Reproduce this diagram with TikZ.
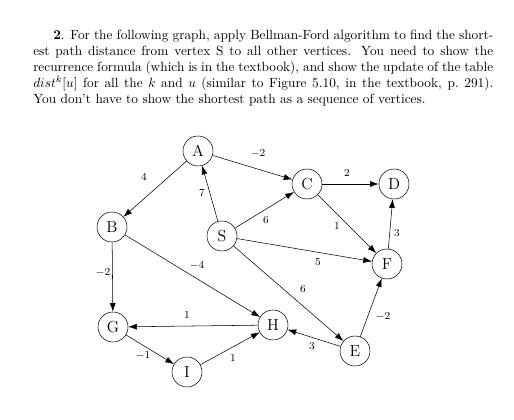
\documentclass[tikz,border=0pt]{standalone}
\usepackage{tikz}
\usetikzlibrary{arrows.meta}

\tikzset{
  vtx/.style={draw,circle,thin,minimum size=22.5pt,inner sep=0pt,font=\large},
  edge/.style={thin,-{Latex[length=6.5pt,width=4.5pt]}},
  wt/.style={font=\footnotesize,inner sep=1pt}
}

\begin{document}
\begin{tikzpicture}[x=0.75pt,y=-0.75pt]
    \useasboundingbox (0,0) rectangle (514,420);

    \node[anchor=north west,inner sep=0pt,text width=345pt,align=justify] (task) at (33,30)
    {\hspace*{15pt}\textbf{2}. For the following graph, apply Bellman-Ford algorithm to find the short\-est path distance from vertex S to all other vertices.  You need to show the recurrence formula (which is in the textbook), and show the update of the table $dist^k[u]$ for all the $k$ and $u$ (similar to Figure 5.10, in the textbook, p.~291). You don't have to show the shortest path as a sequence of vertices.};

    \node[vtx] (A) at (198,151) {A};
    \node[vtx] (B) at (112,227) {B};
    \node[vtx] (S) at (222,236) {S};
    \node[vtx] (C) at (307,184) {C};
    \node[vtx] (D) at (394,184) {D};
    \node[vtx] (F) at (387,264) {F};
    \node[vtx] (G) at (113,327) {G};
    \node[vtx] (H) at (273,325) {H};
    \node[vtx] (I) at (187,372) {I};
    \node[vtx] (E) at (355,351) {E};

    \draw[edge] (A) -- (B);
    \draw[edge] (A) -- (C);
    \draw[edge] (S) -- (A);
    \draw[edge] (S) -- (C);
    \draw[edge] (C) -- (D);
    \draw[edge] (C) -- (F);
    \draw[edge] (F) -- (D);
    \draw[edge] (S) -- (F);
    \draw[edge] (B) -- (G);
    \draw[edge] (B) -- (H);
    \draw[edge] (S) -- (E);
    \draw[edge] (E) -- (F);
    \draw[edge] (E) -- (H);
    \draw[edge] (H) -- (G);
    \draw[edge] (G) -- (I);
    \draw[edge] (I) -- (H);

    \node[wt] (wAB) at (144,177) {4};
    \node[wt] (wAC) at (258,154) {$-2$};
    \node[wt] (wSA) at (202,193) {7};
    \node[wt] (wSC) at (266,220) {6};
    \node[wt] (wCD) at (347,173) {2};
    \node[wt] (wCF) at (337,226) {1};
    \node[wt] (wFD) at (397,233) {3};
    \node[wt] (wSF) at (318,262) {5};
    \node[wt] (wBG) at (103,273) {$-2$};
    \node[wt] (wBH) at (197,266) {$-4$};
    \node[wt] (wSE) at (303,289) {6};
    \node[wt] (wEF) at (383,317) {$-2$};
    \node[wt] (wEH) at (312,346) {3};
    \node[wt] (wHG) at (187,315) {1};
    \node[wt] (wGI) at (143,356) {$-1$};
    \node[wt] (wIH) at (233,358) {1};
\end{tikzpicture}
\end{document}
